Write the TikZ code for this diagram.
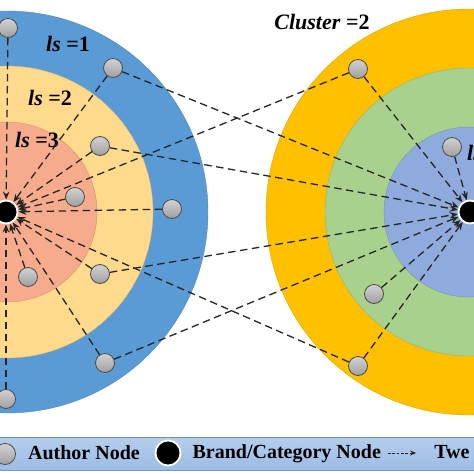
\documentclass[tikz,border=0pt]{standalone}
\usepackage{fontspec}
\setmainfont{Liberation Serif}
\usetikzlibrary{arrows.meta,positioning}

\definecolor{ringBlue}{HTML}{5B9BD5}
\definecolor{ringYellow}{HTML}{FFD98C}
\definecolor{ringPink}{HTML}{F5AB8C}
\definecolor{ringGold}{HTML}{FFC000}
\definecolor{ringGreen}{HTML}{A9D18E}
\definecolor{ringLilac}{HTML}{8FAADC}
\definecolor{keyTop}{HTML}{B4CDEC}
\definecolor{keyBot}{HTML}{9DBDE6}

\begin{document}
\begin{tikzpicture}[x=1pt,y=-1pt,
    author/.style={circle, draw=black!70, line width=0.8pt, top color=gray!35,
        bottom color=gray!75, minimum size=19pt, inner sep=0pt},
    brand/.style={circle, fill=black, draw=white, line width=1.8pt,
        minimum size=23pt, inner sep=0pt},
    tweet/.style={dash pattern=on 7.5pt off 4.5pt, line width=1.3pt, black!85,
        -{Stealth[length=8pt,width=6.5pt]}},
    keyarrow/.style={dash pattern=on 2.5pt off 1.8pt, line width=1pt, black!85,
        -{Stealth[length=6pt,width=5pt]}},
    lslabel/.style={font=\bfseries\fontsize{22}{26}\selectfont, inner sep=0pt},
    legtext/.style={font=\bfseries\fontsize{20}{24}\selectfont, inner sep=0pt,
        text height=14pt, text depth=4pt}]

    \useasboundingbox (0,0) rectangle (474,474);
    \clip (0,0) rectangle (474,474);

    % Left cluster rings
    \filldraw[fill=ringBlue, draw=ringBlue!85!black, line width=0.4pt] (7,212) circle (201pt);
    \filldraw[fill=ringYellow, draw=ringYellow!85!black, line width=0.4pt] (7,212) circle (146pt);
    \filldraw[fill=ringPink, draw=ringPink!85!black, line width=0.4pt] (7,212) circle (90pt);

    % Right cluster rings
    \filldraw[fill=ringGold, draw=ringGold!85!black, line width=0.4pt] (469,212) circle (203pt);
    \filldraw[fill=ringGreen, draw=ringGreen!85!black, line width=0.4pt] (469,212) circle (144pt);
    \filldraw[fill=ringLilac, draw=ringLilac!85!black, line width=0.4pt] (469,212) circle (85pt);

    % Layer labels
    \node[lslabel] (lsOne) at (68,44) {\textit{ls} =1};
    \node[lslabel] (lsTwo) at (50,98) {\textit{ls} =2};
    \node[lslabel] (lsThree) at (37,140) {\textit{ls} =3};
    \node[lslabel, anchor=west] (lsRight) at (467,153) {\textit{ls} =3};
    \node[lslabel] (clTwo) at (322,22) {\textit{Cluster} =2};

    % Brand/category nodes
    \node[brand] (L) at (6,212) {};
    \node[brand] (R) at (470,212) {};

    % Author nodes, left cluster
    \node[author] (A1) at (8,28) {};
    \node[author] (A2) at (113,68) {};
    \node[author] (A3) at (100,146) {};
    \node[author] (A4) at (75,197) {};
    \node[author] (A5) at (172,209) {};
    \node[author] (A6) at (28,277) {};
    \node[author] (A7) at (100,274) {};
    \node[author] (A8) at (105,363) {};
    \node[author] (A9) at (6,399) {};

    % Author nodes, right cluster
    \node[author] (B1) at (358,69) {};
    \node[author] (B2) at (452,147) {};
    \node[author] (B3) at (374,294) {};
    \node[author] (B4) at (358,366) {};

    % Tweets inside left cluster
    \foreach \a in {A1,A2,A3,A4,A5,A6,A7,A8,A9}
        \draw[tweet] (\a) -- (L);

    % Tweets inside right cluster
    \foreach \b in {B1,B2,B3,B4}
        \draw[tweet] (\b) -- (R);

    % Tweets across clusters
    \foreach \a in {A2,A3,A7,A8}
        \draw[tweet] (\a) -- (R);
    \foreach \b in {B1,B4}
        \draw[tweet] (\b) -- (L);

    % Legend
    \fill[top color=keyTop, bottom color=keyBot] (0,437) rectangle (474,470);
    \draw[keyBot!75!black, line width=0.6pt] (0,437) -- (474,437);
    \draw[keyBot!80!black, line width=0.6pt] (0,470) -- (474,470);

    \node[author, minimum size=21pt] (keyA) at (5,454) {};
    \node[legtext, right=12pt of keyA] (keyAt) {Author Node};
    \node[brand, minimum size=25pt] (keyB) at (168,453) {};
    \node[legtext, right=11pt of keyB] (keyBt) {Brand/Category Node};
    \coordinate[right=7pt of keyBt] (keyS);
    \coordinate[right=28pt of keyS] (keyE);
    \draw[keyarrow] (keyS) -- (keyE);
    \node[legtext, right=18pt of keyE] (keyCt) {Twe};
\end{tikzpicture}
\end{document}
